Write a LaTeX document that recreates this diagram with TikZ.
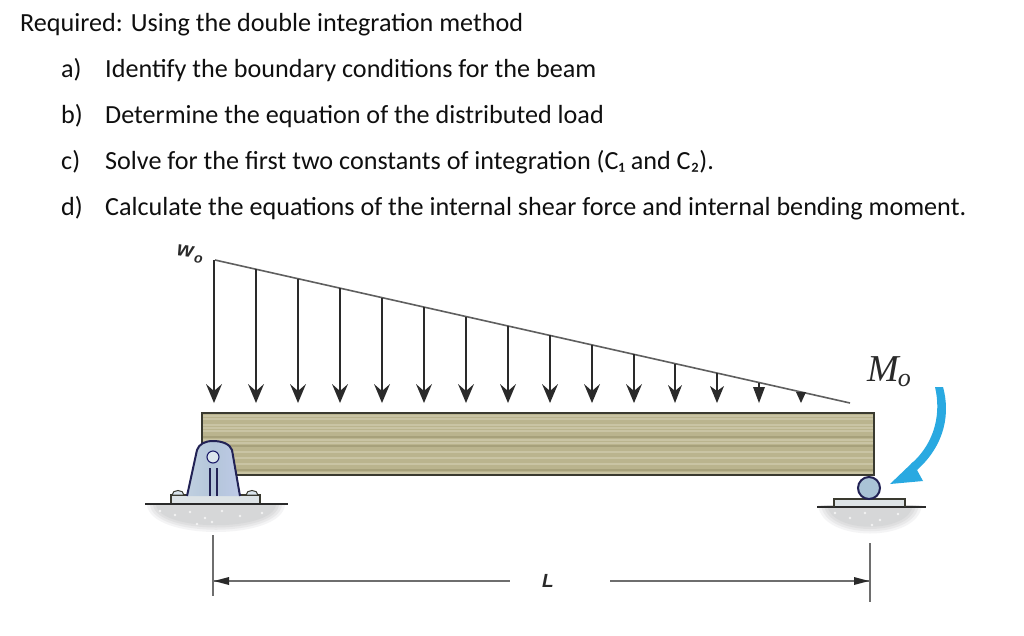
\documentclass[tikz,border=0pt]{standalone}
\usepackage{fontspec}
\setmainfont{Carlito}
\newfontfamily\serifit{Liberation Serif}
\newfontfamily\sansb{Liberation Sans}
\definecolor{wood}{HTML}{BAB48E}
\definecolor{woodlight}{HTML}{D0CCAE}
\definecolor{wooddark}{HTML}{A09A74}
\definecolor{edge}{HTML}{3A3A30}
\definecolor{steel}{HTML}{B4C6DA}
\definecolor{steellight}{HTML}{DCE6EE}
\definecolor{ink}{HTML}{2A2A2A}
\definecolor{dimgray}{HTML}{6E6E6E}
\definecolor{blueM}{HTML}{29A9E1}
\definecolor{rollerfill}{HTML}{A9C3D6}
\definecolor{plate}{HTML}{DDE3E6}
\definecolor{soil}{HTML}{D6D7D8}
\tikzset{
  x=1pt,y=-1pt,
  txt/.style={anchor=base west,inner sep=0pt,font=\fontsize{26.15}{30}\selectfont,text=black!94},
  loadline/.style={draw=ink,line width=2.8pt},
  loadhead/.style={fill=ink,draw=none},
  dimline/.style={draw=dimgray,line width=1.6pt},
  dimhead/.style={fill=ink,draw=none},
  outline/.style={draw=edge,line width=2.2pt},
}
\newcommand{\loadarrow}[2]{%
  \draw[loadline] (#1,#2) -- (#1,392);
  \fill[loadhead] (#1,403) -- (#1-8,384) -- (#1,391) -- (#1+8,384) -- cycle;
}
\newcommand{\soilpatch}[3]{% left, right, bottom
  \foreach \k/\o in {0/0.25,3/0.35,6/0.5,9/0.9}{
    \fill[soil,opacity=\o] (#1+\k,505) .. controls (#1+\k+4,{#3-\k+1}) and (#2-\k-4,{#3-\k+1}) .. (#2-\k,505) -- cycle;
  }
}
\begin{document}
\begin{tikzpicture}
\useasboundingbox (0,0) rectangle (1024,635);
\fill[white] (0,0) rectangle (1024,635);
% text
\node[txt] (t0) at (20,31) {Required: Using the double integration method};
\node[txt] (ta) at (61,77) {a)};
\node[txt] (tat) at (105,77) {Identify the boundary conditions for the beam};
\node[txt] (tb) at (61,123) {b)};
\node[txt] (tbt) at (105,123) {Determine the equation of the distributed load};
\node[txt] (tc) at (61,169) {c)};
\node[txt] (tct) at (105,169) {Solve for the first two constants of integration (C₁ and C₂).};
\node[txt] (td) at (61,215) {d)};
\node[txt] (tdt) at (105,215) {Calculate the equations of the internal shear force and internal bending moment.};
% load
\coordinate (loadA) at (215,260);
\coordinate (loadB) at (850,403);
\draw[draw=ink!75,line width=1.6pt] (loadA) -- (loadB);
\foreach \x in {214,256,298,340,382,424,466,508,550,592}{
  \pgfmathsetmacro{\yt}{260+(\x-215)*0.2252}
  \loadarrow{\x}{\yt}
}
\draw[loadline] (634,354) -- (634,392);
\fill[loadhead] (634,403) -- (626,384) -- (634,391) -- (642,384) -- cycle;
\draw[loadline] (675,364) -- (675,392);
\fill[loadhead] (675,403) -- (668,385) -- (675,391) -- (682,385) -- cycle;
\draw[loadline] (717,373) -- (717,392);
\fill[loadhead] (717,403) -- (710,386) -- (717,391) -- (724,386) -- cycle;
\draw[loadline,line width=2.2pt] (759,383) -- (759,392);
\fill[loadhead] (759,403) -- (753,387) -- (765,387) -- cycle;
\fill[loadhead] (801,403) -- (796,392) -- (806,392) -- cycle;
\node[inner sep=0pt,rotate=-8,font=\sansb\bfseries\itshape\fontsize{21}{21}\selectfont,text=ink] (w0) at (190,254) {w\kern2pt\raisebox{-5pt}{\fontsize{14}{14}\selectfont o}};
% beam
\fill[wood] (202,413) rectangle (874,475);
\pgfmathsetseed{7}
\foreach \y in {416,419,...,473}{
  \pgfmathsetmacro{\m}{int(random(0,2))}
  \ifnum\m=0 \def\cc{woodlight}\else\ifnum\m=1 \def\cc{wooddark}\else\def\cc{wood}\fi\fi
  \draw[\cc,line width=1.5pt,opacity=.7] (203,\y) -- (873,\y);
}
\draw[outline] (202,413) rectangle (874,475);
% left ground
\soilpatch{147}{285}{540}
\foreach \a/\b in {160/511,175/515,190/512,205/518,222/511,240/516,262/513,197/524,212/522}{\fill[white,opacity=.7] (\a,\b) circle (1.3);}
\draw[draw=ink,line width=1.8pt] (145,504) -- (288,504);
% left support
\fill[plate] (171,495) rectangle (260,503);
\draw[draw=edge,line width=1.6pt] (171,503) -- (171,495) -- (260,495) -- (260,503);
\draw[draw=edge,fill=steellight,line width=1pt] (172,495) .. controls (172,489) and (184,489) .. (184,495) -- cycle;
\draw[draw=edge,fill=steellight,line width=1pt] (246,495) .. controls (246,489) and (258,489) .. (258,495) -- cycle;
\shade[left color=steel!70!steellight,right color=steel!90!blue!70,middle color=steel] (187,496) -- (197,450) .. controls (199,444) and (205,441) .. (213,441) .. controls (222,441) and (230,444) .. (232,450) -- (240,496) -- cycle;
\draw[draw=ink!80!blue,line width=2pt] (187,496) -- (197,450) .. controls (199,444) and (205,441) .. (213,441) .. controls (222,441) and (230,444) .. (232,450) -- (240,496);
\node[circle,draw=ink!70!blue,fill=steellight,line width=1.1pt,minimum size=12pt,inner sep=0pt] (pin) at (213,457) {};
\draw[draw=ink!80!blue,line width=1.5pt] (210,468) -- (210,496) (217,468) -- (217,496);
% right ground
\soilpatch{818}{922}{542}
\foreach \a/\b in {835/513,850/518,865/513,880/520,898/514,872/525}{\fill[white,opacity=.7] (\a,\b) circle (1.3);}
\draw[draw=ink,line width=1.8pt] (817,507) -- (926,507);
\fill[plate] (834,499) rectangle (905,506);
\draw[draw=edge,line width=1.6pt] (834,507) -- (834,499) -- (905,499) -- (905,507);
\node[circle,draw=ink!80!blue,fill=rollerfill,line width=2pt,minimum size=22pt,inner sep=0pt] (roller) at (869,488) {};
% dimension
\coordinate (dl) at (213,581);
\coordinate (dr) at (870,581);
\node[inner sep=0pt,font=\sansb\bfseries\itshape\fontsize{19}{19}\selectfont,text=ink] (L) at (548,581) {L};
\draw[dimline] (213,535) -- (213,596);
\draw[dimline] (870,543) -- (870,602);
\draw[dimline] (dl) -- (510,581);
\draw[dimline] (610,581) -- (dr);
\fill[dimhead] (214,581) -- (229,577) -- (229,585) -- cycle;
\fill[dimhead] (869,581) -- (854,577) -- (854,585) -- cycle;
% moment
\node[inner sep=0pt,font=\serifit\itshape\fontsize{38}{38}\selectfont,text=ink] (M) at (889,372) {M\kern-1pt\raisebox{-5pt}{\fontsize{26}{26}\selectfont o}};
\fill[blueM] (935,387) -- (943,387) .. controls (950,412) and (946,444) .. (917,470) -- (911,464) .. controls (936,442) and (941,412) .. (935,387) -- cycle;
\fill[blueM] (890,484) -- (913,462) -- (917,470) -- (923,481) -- cycle;
\end{tikzpicture}
\end{document}
